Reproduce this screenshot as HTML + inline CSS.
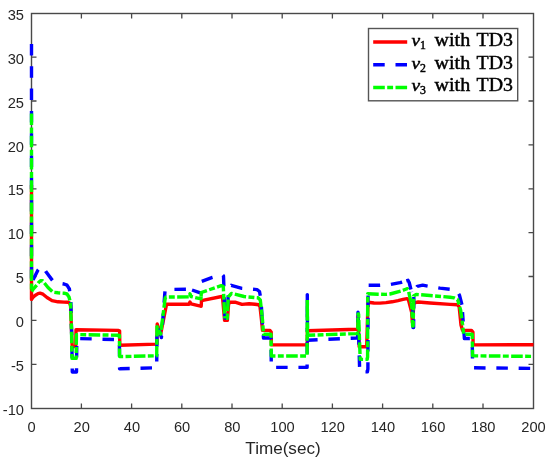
<!DOCTYPE html>
<html><head><meta charset="utf-8"><title>Plot</title>
<style>html,body{margin:0;padding:0;background:#fff}svg{display:block}text{font-family:"Liberation Sans",sans-serif;fill:#262626}.leg{font-family:"Liberation Serif",serif;fill:#000;stroke:#000;stroke-width:0.45px}</style></head><body>
<svg width="550" height="464" viewBox="0 0 550 464">
<defs><filter id="soft" x="0" y="0" width="550" height="464" filterUnits="userSpaceOnUse"><feGaussianBlur stdDeviation="0.35"/></filter></defs>
<rect width="550" height="464" fill="#fff"/>
<g filter="url(#soft)">
<rect x="31.5" y="13.5" width="502.0" height="395.0" fill="none" stroke="#484848" stroke-width="1.4"/>
<path d="M81.4 408.5v-5M81.4 13.5v5M131.6 408.5v-5M131.6 13.5v5M181.8 408.5v-5M181.8 13.5v5M232.0 408.5v-5M232.0 13.5v5M282.2 408.5v-5M282.2 13.5v5M332.4 408.5v-5M332.4 13.5v5M382.6 408.5v-5M382.6 13.5v5M432.8 408.5v-5M432.8 13.5v5M483.0 408.5v-5M483.0 13.5v5M31.5 364.3h5M533.5 364.3h-5M31.5 320.4h5M533.5 320.4h-5M31.5 276.5h5M533.5 276.5h-5M31.5 232.6h5M533.5 232.6h-5M31.5 188.8h5M533.5 188.8h-5M31.5 144.9h5M533.5 144.9h-5M31.5 101.0h5M533.5 101.0h-5M31.5 57.1h5M533.5 57.1h-5" stroke="#484848" stroke-width="1.3" fill="none"/>
<g font-size="14.67px">
<text x="31.5" y="431.9" text-anchor="middle">0</text>
<text x="81.7" y="431.9" text-anchor="middle">20</text>
<text x="131.9" y="431.9" text-anchor="middle">40</text>
<text x="182.1" y="431.9" text-anchor="middle">60</text>
<text x="232.3" y="431.9" text-anchor="middle">80</text>
<text x="282.5" y="431.9" text-anchor="middle">100</text>
<text x="332.7" y="431.9" text-anchor="middle">120</text>
<text x="382.9" y="431.9" text-anchor="middle">140</text>
<text x="433.1" y="431.9" text-anchor="middle">160</text>
<text x="483.3" y="431.9" text-anchor="middle">180</text>
<text x="533.5" y="431.9" text-anchor="middle">200</text>
<text x="24.0" y="414.8" text-anchor="end">-10</text>
<text x="24.0" y="370.9" text-anchor="end">-5</text>
<text x="24.0" y="327.0" text-anchor="end">0</text>
<text x="24.0" y="283.1" text-anchor="end">5</text>
<text x="24.0" y="239.2" text-anchor="end">10</text>
<text x="24.0" y="195.4" text-anchor="end">15</text>
<text x="24.0" y="151.5" text-anchor="end">20</text>
<text x="24.0" y="107.6" text-anchor="end">25</text>
<text x="24.0" y="63.7" text-anchor="end">30</text>
<text x="24.0" y="19.8" text-anchor="end">35</text>
</g>
<text x="283" y="453.8" text-anchor="middle" font-size="17.1px">Time(sec)</text>
<g fill="none" stroke-width="3.4" stroke-linejoin="round">
<polyline points="31.5,185.0 31.5,299.4 32.8,297.6 35.0,295.5 38.0,293.6 40.0,293.2 43.0,294.2 47.0,297.5 52.0,300.6 58.0,301.8 64.0,302.1 68.2,302.3 69.8,303.2 70.6,306.0 71.5,330.0 72.2,346.5 75.8,346.5 76.0,329.8 118.5,330.4 119.6,331.0 119.8,345.2 156.9,344.1 157.2,324.0 160.7,334.0 166.5,304.3 189.0,304.2 190.0,302.0 191.0,303.8 200.6,306.2 201.2,306.2 201.5,300.6 221.7,296.5 222.5,297.0 224.6,320.4 227.4,320.4 228.6,304.0 230.0,302.3 235.0,302.2 242.0,304.4 249.0,303.7 255.0,304.3 258.6,304.8 260.0,306.5 261.5,320.0 262.5,330.4 270.0,330.4 271.2,332.0 271.4,344.9 307.2,344.9 307.4,330.7 356.7,329.3 357.8,329.3 358.0,316.0 359.2,346.8 366.7,346.8 368.0,302.2 374.0,303.0 380.0,303.1 386.0,302.6 392.0,301.8 398.0,300.6 403.0,299.4 407.0,298.6 408.5,300.0 411.6,312.0 412.4,322.7 413.0,322.7 413.6,303.5 416.0,302.4 418.2,302.0 430.0,303.0 450.0,304.4 457.5,304.8 459.2,307.0 461.0,325.0 462.5,330.4 471.5,330.4 472.9,332.0 473.1,344.9 533.5,344.7" stroke="#ff0000"/>
<polyline points="31.5,44.0 31.5,282.0 31.6,281.8" stroke="#0000ff" stroke-dasharray="11.5 10.8" stroke-dashoffset="0.00"/>
<polyline points="31.6,281.8 34.0,278.0 38.0,270.0 40.0,267.6 41.8,266.5 43.5,267.8 46.0,271.8 52.5,280.5 58.0,283.0 64.0,284.0 67.0,285.2 69.4,289.0 70.8,300.0 70.9,304.0" stroke="#0000ff" stroke-dasharray="11.5 10.8" stroke-dashoffset="19.85"/>
<polyline points="70.9,304.0 71.8,340.0 72.3,372.0 76.5,372.0 76.8,338.5 117.8,339.6 119.4,340.0 119.5,354.4" stroke="#0000ff" stroke-dasharray="11.5 10.8" stroke-dashoffset="2.38"/>
<polyline points="119.5,354.4 119.6,368.8 156.7,367.7 156.8,354.1" stroke="#0000ff" stroke-dasharray="11.5 10.8" stroke-dashoffset="9.29"/>
<polyline points="156.8,354.1 157.0,327.0 158.5,327.0 161.4,337.5 165.0,291.0 165.5,289.5 188.6,289.2 189.6,286.2 190.6,289.5 199.5,292.7 201.0,293.0 201.1,289.2" stroke="#0000ff" stroke-dasharray="11.5 10.8" stroke-dashoffset="14.85"/>
<polyline points="201.1,289.2 201.3,281.5 212.4,277.4 222.3,274.7 223.5,276.0 224.8,312.4" stroke="#0000ff" stroke-dasharray="11.5 10.8" stroke-dashoffset="14.10"/>
<polyline points="224.8,312.4 225.0,318.0 227.2,318.0 228.5,289.0 231.2,285.3 241.9,288.4 255.0,289.4 257.0,289.6 259.5,291.5 261.0,300.0 262.0,316.7" stroke="#0000ff" stroke-dasharray="11.5 10.8" stroke-dashoffset="3.19"/>
<polyline points="262.0,316.7 262.5,325.0 263.5,338.0 271.0,338.0 271.3,367.4 307.1,367.4 307.2,331.0" stroke="#0000ff" stroke-dasharray="11.5 10.8" stroke-dashoffset="3.81"/>
<polyline points="307.2,331.0 307.3,294.6 307.5,340.2 356.7,338.0 357.6,338.0 357.9,318.7" stroke="#0000ff" stroke-dasharray="11.5 10.8" stroke-dashoffset="8.58"/>
<polyline points="357.9,318.7 358.0,312.2 359.7,371.9 367.4,371.9 367.9,369.0 368.1,285.2 380.0,285.2 390.0,284.6 400.0,282.7 404.0,281.5" stroke="#0000ff" stroke-dasharray="11.5 10.8" stroke-dashoffset="17.18"/>
<polyline points="404.0,281.5 408.0,280.3 409.2,282.5 411.5,291.8" stroke="#0000ff" stroke-dasharray="11.5 10.8" stroke-dashoffset="19.90"/>
<polyline points="411.5,291.8 412.8,297.0 413.0,327.6 413.6,327.6 413.9,291.0 417.3,286.3 422.7,285.2 430.0,286.5 440.0,288.1 449.8,289.2 457.0,291.0 459.4,295.0 462.0,305.0 462.5,312.1" stroke="#0000ff" stroke-dasharray="11.5 10.8" stroke-dashoffset="11.23"/>
<polyline points="462.5,312.1 463.4,325.0 464.4,338.5 472.2,338.5 472.6,367.8 533.5,368.4" stroke="#0000ff" stroke-dasharray="11.5 10.8" stroke-dashoffset="1.87"/>
<polyline points="31.5,113.4 31.5,291.5 31.6,291.4" stroke="#00ff00" stroke-dasharray="11.6 2.4 5.9 2.4" stroke-dashoffset="0.00"/>
<polyline points="31.6,291.4 33.0,289.5 37.2,284.5 39.0,282.0 40.5,280.8 42.5,280.7 44.4,283.0 48.0,287.5 53.0,292.2 58.0,292.8 64.0,293.2 67.0,294.0 69.0,297.0 70.5,303.0 70.9,313.8" stroke="#00ff00" stroke-dasharray="11.6 2.4 5.9 2.4" stroke-dashoffset="3.45"/>
<polyline points="70.9,313.8 71.5,330.0 72.0,358.4 76.2,358.4 76.4,334.6 117.8,335.2 119.4,335.5 119.5,346.1" stroke="#00ff00" stroke-dasharray="11.6 2.4 5.9 2.4" stroke-dashoffset="4.38"/>
<polyline points="119.5,346.1 119.6,356.6 156.7,355.8 156.8,346.1" stroke="#00ff00" stroke-dasharray="11.6 2.4 5.9 2.4" stroke-dashoffset="19.85"/>
<polyline points="156.8,346.1 157.0,326.6 160.6,334.0 165.2,298.0 166.0,297.0 189.0,296.9 190.0,293.8 191.0,296.5 200.0,298.7 201.0,298.7 201.1,296.6" stroke="#00ff00" stroke-dasharray="11.6 2.4 5.9 2.4" stroke-dashoffset="12.73"/>
<polyline points="201.1,296.6 201.3,292.5 221.2,285.6 223.3,286.5 224.8,318.3" stroke="#00ff00" stroke-dasharray="11.6 2.4 5.9 2.4" stroke-dashoffset="1.54"/>
<polyline points="224.8,318.3 224.8,318.3 227.2,318.3 228.3,297.0 231.5,293.4 244.0,296.5 255.0,297.6 258.0,297.8 260.3,300.0 262.0,315.5" stroke="#00ff00" stroke-dasharray="11.6 2.4 5.9 2.4" stroke-dashoffset="12.66"/>
<polyline points="262.0,315.5 262.5,320.0 263.5,334.2 271.0,334.2 271.3,356.0 307.1,356.0 307.2,327.6" stroke="#00ff00" stroke-dasharray="11.6 2.4 5.9 2.4" stroke-dashoffset="3.99"/>
<polyline points="307.2,327.6 307.3,299.2 307.5,335.3 356.7,333.6 357.8,333.6 357.9,323.8" stroke="#00ff00" stroke-dasharray="11.6 2.4 5.9 2.4" stroke-dashoffset="6.29"/>
<polyline points="357.9,323.8 358.0,314.0 358.6,314.0 360.2,359.4 367.2,359.4 367.6,357.0 367.7,293.7 378.0,294.2 386.0,294.4 390.0,294.0 401.0,291.0 405.0,289.5 407.4,288.7 408.3,290.0 411.0,302.3" stroke="#00ff00" stroke-dasharray="11.6 2.4 5.9 2.4" stroke-dashoffset="5.81"/>
<polyline points="411.0,302.3 411.8,306.0 412.6,326.0 413.2,326.0 413.7,296.0 416.2,294.4 430.0,295.5 450.0,297.2 454.2,297.9 457.6,299.5 460.6,310.0 462.5,324.2" stroke="#00ff00" stroke-dasharray="11.6 2.4 5.9 2.4" stroke-dashoffset="4.55"/>
<polyline points="462.5,324.2 462.6,325.0 463.6,334.2 472.2,334.2 472.6,355.8 533.5,356.4" stroke="#00ff00" stroke-dasharray="11.6 2.4 5.9 2.4" stroke-dashoffset="10.38"/>
</g>
<rect x="368.5" y="28.5" width="149.2" height="72.3" fill="#fff" stroke="#555" stroke-width="1.4"/>
<g fill="none" stroke-width="3.4">
<path d="M373.2 42H407.2" stroke="#ff0000"/>
<path d="M373.2 64.7H407.2" stroke="#0000ff" stroke-dasharray="11.5 10.8"/>
<path d="M373.2 87.5H407.2" stroke="#00ff00" stroke-dasharray="11.6 2.4 5.9 2.4"/>
</g>
<text class="leg" x="411.4" y="46" font-size="17.5px" font-style="italic" textLength="8.6" lengthAdjust="spacingAndGlyphs">v</text>
<text class="leg" x="420" y="49.3" font-size="11.8px">1</text>
<text class="leg" x="434.6" y="46" font-size="17.8px" textLength="35.6" lengthAdjust="spacingAndGlyphs">with</text>
<text class="leg" x="476.6" y="46" font-size="19px" textLength="36.4" lengthAdjust="spacingAndGlyphs">TD3</text>
<text class="leg" x="411.4" y="68.6" font-size="17.5px" font-style="italic" textLength="8.6" lengthAdjust="spacingAndGlyphs">v</text>
<text class="leg" x="420" y="71.89999999999999" font-size="11.8px">2</text>
<text class="leg" x="434.6" y="68.6" font-size="17.8px" textLength="35.6" lengthAdjust="spacingAndGlyphs">with</text>
<text class="leg" x="476.6" y="68.6" font-size="19px" textLength="36.4" lengthAdjust="spacingAndGlyphs">TD3</text>
<text class="leg" x="411.4" y="91" font-size="17.5px" font-style="italic" textLength="8.6" lengthAdjust="spacingAndGlyphs">v</text>
<text class="leg" x="420" y="94.3" font-size="11.8px">3</text>
<text class="leg" x="434.6" y="91" font-size="17.8px" textLength="35.6" lengthAdjust="spacingAndGlyphs">with</text>
<text class="leg" x="476.6" y="91" font-size="19px" textLength="36.4" lengthAdjust="spacingAndGlyphs">TD3</text>
</g>
</svg></body></html>
